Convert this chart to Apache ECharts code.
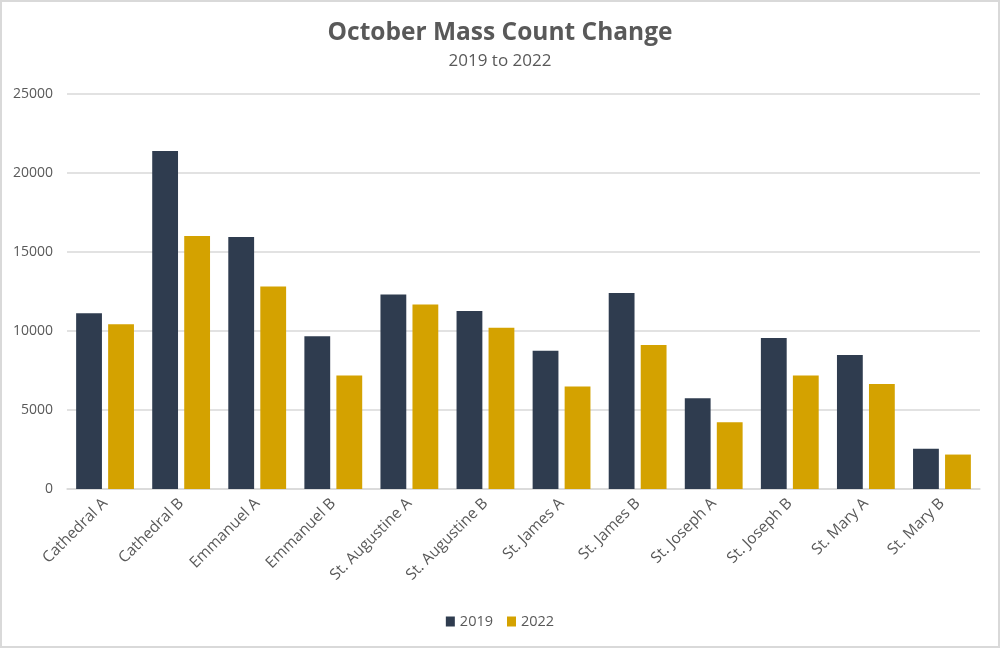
<!DOCTYPE html>
<html>
<head>
<meta charset="utf-8">
<script src="https://cdn.jsdelivr.net/npm/echarts@6/dist/echarts.min.js"></script>
<style>
html, body { margin: 0; padding: 0; background: #fff; }
#main { width: 996px; height: 644px; border: 2px solid #d9d9d9; }
</style>
</head>
<body>
<div id="main"></div>
<script>
var categories = ['Cathedral A', 'Cathedral B', 'Emmanuel A', 'Emmanuel B', 'St. Augustine A', 'St. Augustine B',
    'St. James A', 'St. James B', 'St. Joseph A', 'St. Joseph B', 'St. Mary A', 'St. Mary B'];
var count2019 = [11120, 21400, 15950, 9660, 12310, 11270, 8750, 12410, 5740, 9560, 8480, 2540];
var count2022 = [10420, 16010, 12820, 7180, 11680, 10210, 6480, 9110, 4220, 7180, 6650, 2180];
var yTicks = [0, 5000, 10000, 15000, 20000, 25000];

var myChart = echarts.init(document.getElementById('main'));

var option = {
    textStyle: { fontFamily: 'Open Sans' },
    title: {
        text: 'October Mass Count Change',
        subtext: '2019 to 2022',
        left: 'center',
        top: 14,
        itemGap: 7,
        textStyle: { fontSize: 24.5, fontWeight: 'bold', color: '#595959', fontFamily: 'Open Sans' },
        subtextStyle: { fontSize: 17, color: '#595959', fontFamily: 'Open Sans' }
    },
    legend: {
        data: ['2019', '2022'],
        bottom: 12,
        itemWidth: 9,
        itemHeight: 10,
        itemGap: 14,
        icon: 'rect',
        textStyle: { fontSize: 14.5, color: '#595959' }
    },
    grid: { left: 65, right: 18, top: 92, bottom: 157 },
    xAxis: {
        type: 'category',
        data: categories,
        axisTick: { show: false },
        axisLine: { lineStyle: { color: '#d9d9d9', width: 1.5 } },
        axisLabel: { rotate: 45, fontSize: 15.5, color: '#595959', margin: 12 }
    },
    yAxis: {
        type: 'value',
        min: yTicks[0],
        max: yTicks[yTicks.length - 1],
        interval: 5000,
        axisLabel: {
            fontSize: 14,
            color: '#595959',
            margin: 14,
            formatter: function (v) { return String(v); }
        },
        splitLine: { lineStyle: { color: '#d9d9d9', width: 1.5 } }
    },
    series: [
        {
            name: '2019',
            type: 'bar',
            data: count2019,
            barGap: '24%',
            barCategoryGap: '24%',
            itemStyle: { color: '#2f3c4f' }
        },
        {
            name: '2022',
            type: 'bar',
            data: count2022,
            itemStyle: { color: '#d4a200' }
        }
    ]
};

myChart.setOption(option);
</script>
</body>
</html>
